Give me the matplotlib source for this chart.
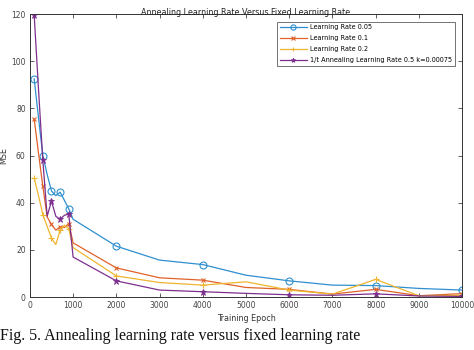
import matplotlib
matplotlib.use("Agg")
import matplotlib.pyplot as plt

epocas = [100, 200, 300, 400, 500, 600, 700, 800, 900, 1000,
          2000, 3000, 4000, 5000, 6000, 7000, 8000, 9000, 10000]

lr_005 = [92.5, 76, 60, 52, 45, 43, 44.5, 41, 37.4, 33,
          21.6, 15.7, 13.8, 9.3, 6.9, 5.1, 4.9, 3.7, 3.0]
lr_01 = [75.5, 61, 47, 34, 30.8, 28.4, 29.8, 29.5, 31.2, 23,
         12.4, 8.2, 7.2, 4.1, 3.3, 1.3, 3.3, 0.6, 1.5]
lr_02 = [50.5, 43, 35, 30, 25, 22.3, 28.4, 30.5, 29, 21,
         9.0, 6.2, 5.1, 6.5, 3.0, 1.3, 7.5, 0.6, 0.8]
anneal = [119.5, 88, 58, 34.3, 40.7, 34.3, 33, 34.7, 35.2, 17,
          6.9, 3.0, 2.3, 1.6, 1.0, 0.8, 1.4, 0.5, 0.3]

etiquetas = ["Learning Rate 0.05", "Learning Rate 0.1", "Learning Rate 0.2",
             "1/t Annealing Learning Rate 0.5 k=0.00075"]

fig = plt.figure(figsize=(4.74, 3.5), dpi=100)
ax = fig.add_axes([0.063, 0.151, 0.912, 0.809])

ax.plot(epocas, lr_005, color="#2f8fd0", lw=0.9, marker="o", ms=5,
        mfc="none", mew=0.8, markevery=2, label=etiquetas[0])
ax.plot(epocas, lr_01, color="#e0622a", lw=0.9, marker="x", ms=3.5,
        mew=0.8, markevery=2, label=etiquetas[1])
ax.plot(epocas, lr_02, color="#efb52e", lw=0.9, marker="+", ms=4.5,
        mew=0.8, markevery=2, label=etiquetas[2])
ax.plot(epocas, anneal, color="#7e2f8e", lw=0.9, marker="*", ms=4.5,
        mew=0.6, markevery=2, label=etiquetas[3])

ax.set_xlim(0, 10000)
ax.set_ylim(0, 120)
ax.set_xticks(range(0, 10001, 1000))
ax.set_yticks(range(0, 121, 20))
ax.tick_params(direction="in", top=True, right=True, labelsize=5.5,
               colors="#444444", length=3, width=0.6, pad=3)
for s in ax.spines.values():
    s.set_linewidth(0.7)
    s.set_color("#333333")

ax.set_title("Annealing Learning Rate Versus Fixed Learning Rate",
             fontsize=5.8, color="#222222", pad=-1)
ax.set_xlabel("Training Epoch", fontsize=5.8, color="#333333", labelpad=3)
ax.set_ylabel("MSE", fontsize=5.8, color="#333333")
ax.yaxis.set_label_coords(-0.05, 0.5)

leg = ax.legend(loc="upper right", fontsize=4.7, frameon=True, fancybox=False,
                edgecolor="#333333", borderpad=0.45, handlelength=4.2,
                labelspacing=0.75, handletextpad=0.4, markerscale=0.75,
                bbox_to_anchor=(0.99, 0.985))
leg.get_frame().set_linewidth(0.6)

fig.text(0.0, 0.028, "Fig. 5. Annealing learning rate versus fixed learning rate",
         fontsize=11.5, family="Liberation Serif", color="#111111")

plt.savefig("out.png", dpi=100)
